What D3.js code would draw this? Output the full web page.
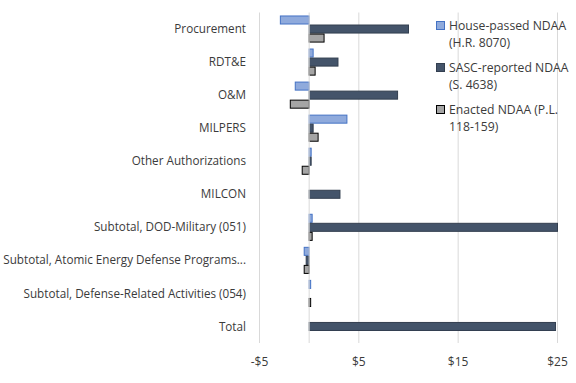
<!DOCTYPE html>
<html>
<head>
<meta charset="utf-8">
<script src="https://cdn.jsdelivr.net/npm/d3@7"></script>
<style>
  body { margin: 0; background: #fff; }
  text { font-family: "Open Sans", sans-serif; fill: #3b3b3b; }
  .cat-label { font-size: 11.7px; }
  .tick-label { font-size: 12px; }
  .legend-text { font-size: 12.2px; }
</style>
</head>
<body>
<div class="chart"></div>
<script>
const categories = ["Procurement", "RDT&E", "O&M", "MILPERS", "Other Authorizations", "MILCON",
    "Subtotal, DOD-Military (051)", "Subtotal, Atomic Energy Defense Programs...",
    "Subtotal, Defense-Related Activities (054)", "Total"]
const seriesNames = [["House-passed NDAA", "(H.R. 8070)"], ["SASC-reported NDAA", "(S. 4638)"], ["Enacted NDAA (P.L.", "118-159)"]]
const house = [-2.9, 0.4, -1.4, 3.8, 0.2, 0, 0.3, -0.5, 0.15, 0]
const sasc = [10.0, 2.9, 8.9, 0.4, 0.2, 3.1, 25.0, -0.3, 0, 24.8]
const enacted = [1.5, 0.6, -1.9, 0.9, -0.7, 0, 0.3, -0.5, 0.15, 0]
const tickValues = [-5, 5, 15, 25]

const fills = ["#8faadc", "#44546a", "#a5a5a5"]
const strokes = ["#4472c4", "#333f50", "#000000"]

const width = 576, height = 383
const svg = d3.select(".chart").append("svg")
    .attr("width", width)
    .attr("height", height)

const x = d3.scaleLinear().domain([-5, 25]).range([259.5, 557.5])
const y = d3.scaleBand().domain(categories).range([12.5, 343]).paddingInner(0.18).paddingOuter(0.09)
const ySub = d3.scaleBand().domain([0, 1, 2]).range([0, y.bandwidth()])

// gridlines
svg.selectAll("line.grid")
    .data(tickValues)
    .enter().append("line")
    .attr("class", "grid")
    .attr("x1", d => x(d)).attr("x2", d => x(d))
    .attr("y1", 12.5).attr("y2", 343)
    .style("stroke", "#d9d9d9")
    .style("stroke-width", 1)

const series = [house, sasc, enacted]
series.forEach(function(vals, s){
    svg.selectAll("rect.s" + s)
        .data(vals)
        .enter().append("rect")
        .attr("class", "s" + s)
        .attr("x", d => x(Math.min(0, d)))
        .attr("width", d => Math.abs(x(d) - x(0)))
        .attr("y", (d, i) => y(categories[i]) + ySub(s) + 0.5)
        .attr("height", ySub.bandwidth() - 1)
        .style("fill", fills[s])
        .style("stroke", d => d === 0 ? "none" : strokes[s])
        .style("stroke-width", 1)
})

// category axis at zero
svg.append("line")
    .attr("x1", x(0)).attr("x2", x(0))
    .attr("y1", 12.5).attr("y2", 343)
    .style("stroke", "#d9d9d9")

svg.selectAll("text.cat-label")
    .data(categories)
    .enter().append("text")
    .attr("class", "cat-label")
    .attr("x", 246)
    .attr("y", d => y(d) + y.bandwidth() / 2)
    .attr("dy", "0.35em")
    .attr("text-anchor", "end")
    .text(d => d)

svg.selectAll("text.tick-label")
    .data(tickValues)
    .enter().append("text")
    .attr("class", "tick-label")
    .attr("x", d => x(d))
    .attr("y", 366)
    .attr("text-anchor", "middle")
    .text(d => (d < 0 ? "-$" : "$") + Math.abs(d))

// legend
const legend = svg.selectAll("g.legend")
    .data(seriesNames)
    .enter().append("g")
    .attr("class", "legend")
    .attr("transform", (d, i) => "translate(436," + (21 + i * 42) + ")")

legend.append("rect")
    .attr("x", 0.5).attr("y", 0.5)
    .attr("width", 8).attr("height", 8)
    .style("fill", (d, i) => fills[i])
    .style("stroke", (d, i) => strokes[i])

legend.each(function(d){
    const t = d3.select(this).append("text")
        .attr("class", "legend-text")
        .attr("x", 13)
        .attr("y", 9)
    t.append("tspan").attr("x", 13).attr("dy", 0).text(d[0])
    t.append("tspan").attr("x", 13).attr("dy", 17).text(d[1])
})
</script>
</body>
</html>
